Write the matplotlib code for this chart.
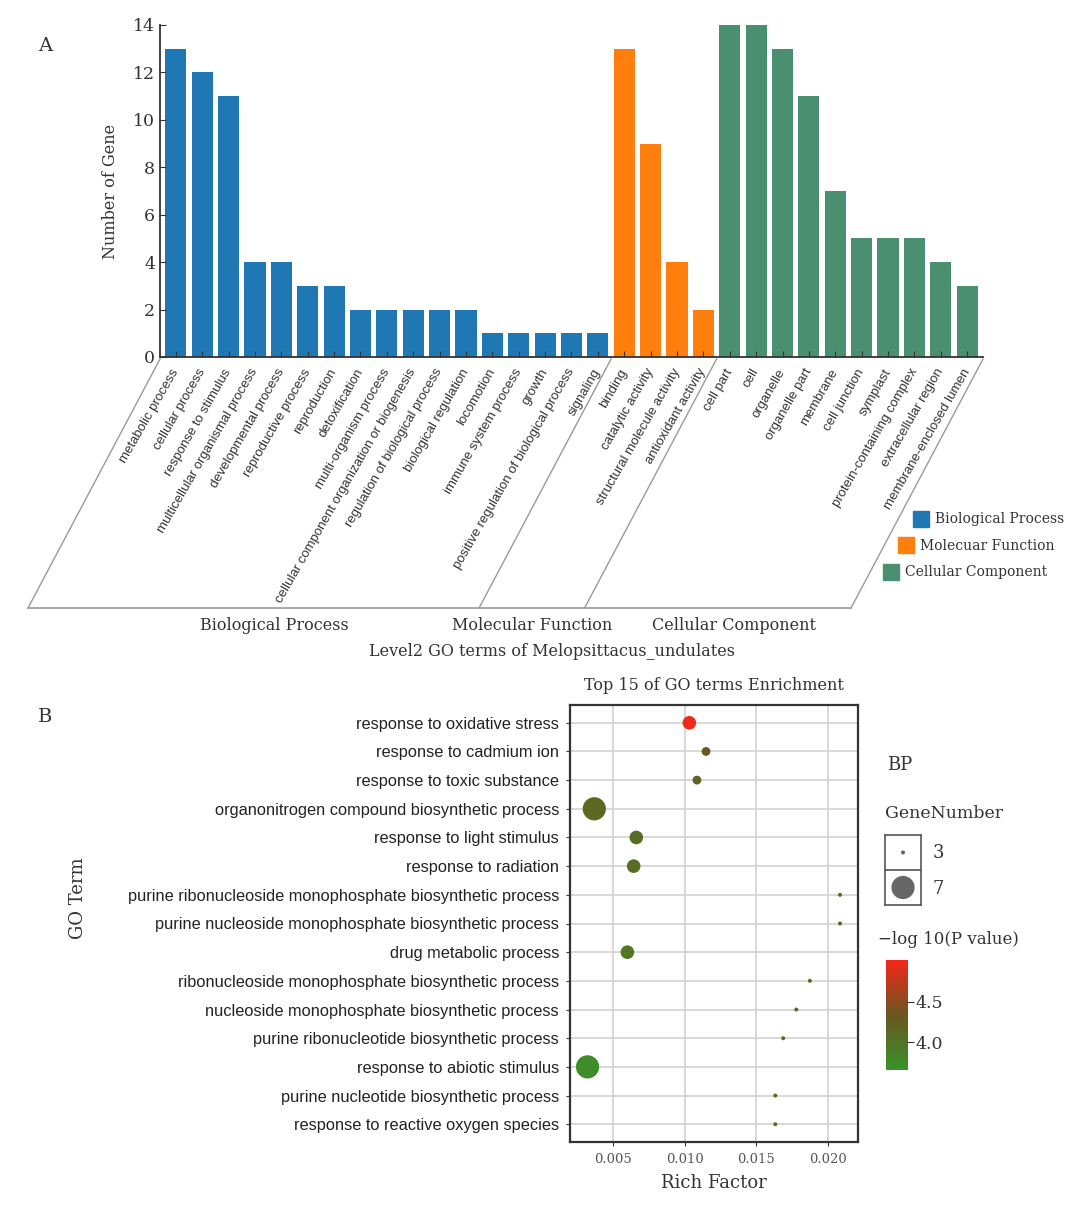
import matplotlib
matplotlib.use("Agg")
import matplotlib.pyplot as plt
import numpy as np
from matplotlib.colors import LinearSegmentedColormap, Normalize
from matplotlib.lines import Line2D
from matplotlib.patches import Rectangle

W, H = 1080, 1206

# ---- panel A data ----
bp_terms = [
    "metabolic process", "cellular process", "response to stimulus",
    "multicellular organismal process", "developmental process",
    "reproductive process", "reproduction", "detoxification",
    "multi-organism process", "cellular component organization or biogenesis",
    "regulation of biological process", "biological regulation", "locomotion",
    "immune system process", "growth",
    "positive regulation of biological process", "signaling",
]
bp_counts = [13, 12, 11, 4, 4, 3, 3, 2, 2, 2, 2, 2, 1, 1, 1, 1, 1]
mf_terms = ["binding", "catalytic activity", "structural molecule activity",
            "antioxidant activity"]
mf_counts = [13, 9, 4, 2]
cc_terms = ["cell part", "cell", "organelle", "organelle part", "membrane",
            "cell junction", "symplast", "protein-containing complex",
            "extracellular region", "membrane-enclosed lumen"]
cc_counts = [14, 14, 13, 11, 7, 5, 5, 5, 4, 3]
group_names = ["Biological Process", "Molecular Function", "Cellular Component"]
legend_names = ["Biological Process", "Molecuar Function", "Cellular Component"]
group_colors = ["#1f77b4", "#ff7f0e", "#4a8f6f"]

# ---- panel B data ----
go_terms = [
    "response to oxidative stress", "response to cadmium ion",
    "response to toxic substance", "organonitrogen compound biosynthetic process",
    "response to light stimulus", "response to radiation",
    "purine ribonucleoside monophosphate biosynthetic process",
    "purine nucleoside monophosphate biosynthetic process",
    "drug metabolic process", "ribonucleoside monophosphate biosynthetic process",
    "nucleoside monophosphate biosynthetic process",
    "purine ribonucleotide biosynthetic process", "response to abiotic stimulus",
    "purine nucleotide biosynthetic process", "response to reactive oxygen species",
]
rich_factor = [0.01033, 0.01149, 0.01086, 0.00372, 0.00664, 0.00646, 0.02081,
               0.02081, 0.00602, 0.01871, 0.01777, 0.01686, 0.00325, 0.01631,
               0.01631]
gene_number = [5, 4, 4, 7, 5, 5, 3, 3, 5, 3, 3, 3, 7, 3, 3]
neg_log_p = [4.98, 4.30, 4.18, 4.12, 4.08, 4.08, 4.15, 4.15, 3.98, 4.12, 4.12,
             4.10, 3.72, 4.08, 4.08]
size_breaks = [3, 7]
cbar_ticks = [4.0, 4.5]


def px(x, y):
    return x / W, 1 - y / H


def dot_size(n):
    d_px = 4 + 4.8 * (np.asarray(n) - 3)
    return (d_px * 72 / 100) ** 2


serif = "DejaVu Serif"
sans = "Liberation Sans"

fig = plt.figure(figsize=(W / 100, H / 100), dpi=100)

# ================= Panel A =================
ax = fig.add_axes([160 / W, 1 - 357 / H, (983 - 160) / W, (357 - 25) / H])
terms = bp_terms + mf_terms + cc_terms
counts = bp_counts + mf_counts + cc_counts
colors = ([group_colors[0]] * len(bp_terms) + [group_colors[1]] * len(mf_terms)
          + [group_colors[2]] * len(cc_terms))
x = np.arange(len(terms))
ax.bar(x, counts, width=0.8, color=colors)
ax.set_xlim(-0.6, len(terms) - 0.4)
ax.set_ylim(0, 14)
ax.set_yticks(range(0, 15, 2))
ax.set_xticks(x)
ax.set_xticklabels(terms, rotation=60, ha="right", va="center",
                   rotation_mode="anchor", fontsize=9.5, family=sans,
                   color="#333333")
ax.tick_params(axis="x", direction="in", length=4, pad=9, color="#333333")
ax.tick_params(axis="y", direction="in", length=4, labelsize=12.5,
               color="#333333", labelcolor="#333333")
for lab in ax.get_yticklabels():
    lab.set_family(serif)
for s in ["top", "right"]:
    ax.spines[s].set_visible(False)
for s in ["left", "bottom"]:
    ax.spines[s].set_color("#333333")
    ax.spines[s].set_linewidth(1.3)
ax.set_ylabel("Number of Gene", family=serif, fontsize=11.5, color="#333333",
              labelpad=10)

# slanted group frame under the axis
fig.canvas.draw()
xl = ax.get_xlim()
n_bp, n_mf = len(bp_terms), len(mf_terms)
bounds = [xl[0], n_bp - 0.5, n_bp + n_mf - 0.5, xl[1]]
top_y, bot_y, slant = 359, 608, 132
bot_x = []
for b in bounds:
    xd = ax.transData.transform((b, 0))[0]
    fig.add_artist(Line2D([xd / W, (xd - slant) / W],
                          [1 - top_y / H, 1 - bot_y / H],
                          color="#9a9a9a", lw=1.0))
    bot_x.append(xd - slant)
fig.add_artist(Line2D([bot_x[0] / W, bot_x[-1] / W],
                      [1 - bot_y / H, 1 - bot_y / H], color="#9a9a9a", lw=1.2))

for name, gx in zip(group_names, [274, 532, 734]):
    fig.text(*px(gx, 626), name, ha="center", va="center", family=serif,
             fontsize=11.5, color="#333333")
fig.text(*px(552, 651), "Level2 GO terms of Melopsittacus_undulates",
         ha="center", va="center", family=serif, fontsize=11.5, color="#333333")
fig.text(*px(45, 46), "A", ha="center", va="center", family=serif,
         fontsize=14, color="#333333")

# legend, staggered along the slant
for i, (name, col) in enumerate(zip(legend_names, group_colors)):
    sx = 913 - 15 * i
    sy = 519 + 26.5 * i
    fig.add_artist(Rectangle(px(sx, sy + 8), 16 / W, 16 / H, color=col,
                             transform=fig.transFigure))
    fig.text(*px(sx + 22, sy), name, ha="left", va="center", family=serif,
             fontsize=10, color="#333333")

# ================= Panel B =================
cmap = LinearSegmentedColormap.from_list(
    "pv", ["#3a922a", "#6a5620", "#f5281a"])
norm = Normalize(vmin=3.66, vmax=5.01)

bx = fig.add_axes([570 / W, 1 - 1142 / H, (858 - 570) / W, (1142 - 705) / H])
y = np.arange(len(go_terms))
bx.scatter(rich_factor, y, s=dot_size(gene_number), c=neg_log_p, cmap=cmap,
           norm=norm, zorder=3, linewidths=0)
bx.set_xlim(0.00203, 0.02206)
bx.set_ylim(len(go_terms) - 0.38, -0.62)
bx.set_yticks(y)
bx.set_yticklabels(go_terms, family=sans, fontsize=11.8, color="#222222")
bx.set_xticks([0.005, 0.010, 0.015, 0.020])
bx.set_xticklabels(["0.005", "0.010", "0.015", "0.020"], family=serif,
                   fontsize=9.5, color="#555555")
bx.tick_params(axis="both", length=3, color="#333333", pad=5)
bx.grid(True, color="#d2d2d2", lw=1.2, zorder=0)
bx.set_axisbelow(True)
for s in bx.spines.values():
    s.set_color("#333333")
    s.set_linewidth(1.6)
bx.set_xlabel("Rich Factor", family=serif, fontsize=13, color="#333333",
              labelpad=6)
bx.set_title("Top 15 of GO terms Enrichment", family=serif, fontsize=11.5,
             color="#333333", pad=11)
fig.text(*px(78, 898), "GO Term", rotation=90, ha="center", va="center",
         family=serif, fontsize=13, color="#333333")
fig.text(*px(45, 717), "B", ha="center", va="center", family=serif,
         fontsize=14, color="#333333")

# size legend
fig.text(*px(887, 765), "BP", ha="left", va="center", family=serif,
         fontsize=13, color="#333333")
fig.text(*px(885, 814), "GeneNumber", ha="left", va="center", family=serif,
         fontsize=12.5, color="#333333")
lx = fig.add_axes([885 / W, 1 - 905 / H, 36 / W, 70 / H])
lx.set_xlim(0, 1)
lx.set_ylim(0, 2)
lx.scatter([0.5] * len(size_breaks), [1.5, 0.5], s=dot_size(size_breaks),
           color="#666666", linewidths=0)
lx.axhline(1, color="#555555", lw=1.2)
lx.set_xticks([])
lx.set_yticks([])
for s in lx.spines.values():
    s.set_color("#555555")
    s.set_linewidth(1.2)
for yy, v in zip([853, 889], size_breaks):
    fig.text(*px(933, yy), str(v), ha="left", va="center", family=serif,
             fontsize=13, color="#333333")

# colour bar
fig.text(*px(878, 940), "\u2212log 10(P value)", ha="left", va="center",
         family=serif, fontsize=12, color="#333333")
cx = fig.add_axes([886 / W, 1 - 1070 / H, 21 / W, 110 / H])
grad = np.linspace(norm.vmin, norm.vmax, 256).reshape(-1, 1)
cx.imshow(grad, cmap=cmap, norm=norm, aspect="auto", origin="lower",
          extent=[0, 1, norm.vmin, norm.vmax])
cx.set_xticks([])
cx.yaxis.tick_right()
cx.set_yticks(cbar_ticks)
cx.set_yticklabels([f"{t:.1f}" for t in cbar_ticks], family=serif,
                   fontsize=12.5, color="#333333")
cx.tick_params(axis="y", length=5, color="#333333", pad=1)
for s in cx.spines.values():
    s.set_visible(False)

fig.savefig("out.png", dpi=100)
